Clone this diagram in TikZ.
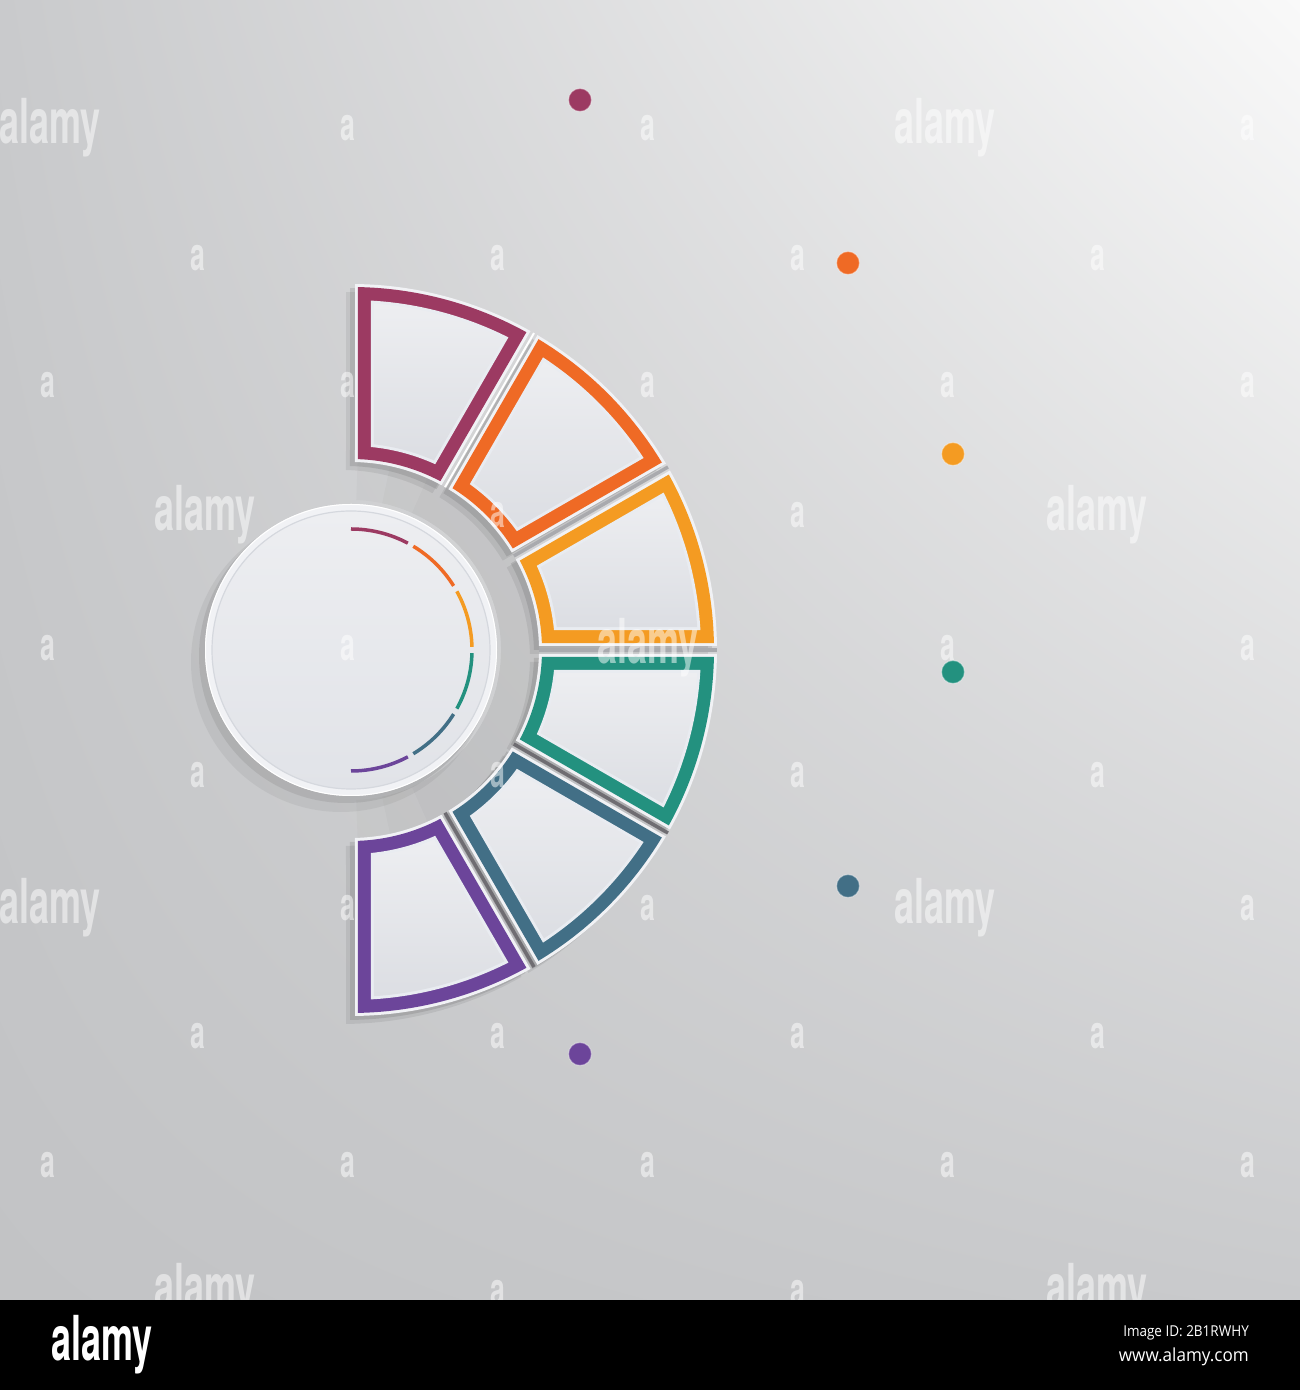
\documentclass[tikz,border=0pt]{standalone}
\usetikzlibrary{shadings}
\usepackage{fontspec}
\setmainfont{TeX Gyre Heros}
\newfontfamily\wmfont{TeX Gyre Heros}
\newfontfamily\barfont{Open Sans}
\definecolor{cMaroon}{HTML}{9C3A62}
\definecolor{cOrange}{HTML}{EF6A25}
\definecolor{cYellow}{HTML}{F49B22}
\definecolor{cTeal}{HTML}{23917F}
\definecolor{cBlue}{HTML}{426F86}
\definecolor{cPurple}{HTML}{6C459A}
\definecolor{bgUL}{HTML}{C9CACC}
\definecolor{bgUR}{HTML}{F9F9F9}
\definecolor{bgLL}{HTML}{C2C3C5}
\definecolor{bgLR}{HTML}{C9CACC}
\definecolor{rimc}{HTML}{F1F2F5}
\definecolor{linec}{HTML}{E9ECF1}
\definecolor{fillt}{HTML}{EDEEF1}
\definecolor{fillb}{HTML}{DCDEE3}
\definecolor{hubb}{HTML}{E1E3E8}
\definecolor{hubline}{HTML}{D5D8DE}
\definecolor{gapdark}{HTML}{6F6D72}
\definecolor{gapmid}{HTML}{A9AAAE}
\def\Rin{188}
\def\Rout{366}
\def\gapw{4}
\newcommand\segshape[4]{%
  \pgfmathsetmacro\sra{\Rin+#3}%
  \pgfmathsetmacro\srb{\Rout-#3}%
  \pgfmathsetmacro\sai{#1+deg((\gapw+#3)/\sra)}%
  \pgfmathsetmacro\sbi{#2-deg((\gapw+#3)/\sra)}%
  \pgfmathsetmacro\sao{#1+deg((\gapw+#3)/\srb)}%
  \pgfmathsetmacro\sbo{#2-deg((\gapw+#3)/\srb)}%
  \path[shift={(C)},#4] (\sao:\srb pt) arc[start angle=\sao,end angle=\sbo,radius=\srb pt]
     -- (\sbi:\sra pt) arc[start angle=\sbi,end angle=\sai,radius=\sra pt] -- cycle;%
}
\newcommand\ringseg[3]{%
  \segshape{#1}{#2}{0}{fill=rimc}%
  \segshape{#1}{#2}{3}{fill=#3}%
  \segshape{#1}{#2}{16}{fill=linec}%
  \segshape{#1}{#2}{19}{top color=fillt,bottom color=fillb}%
}
\newcommand\hubshade[2]{%
  \fill[black,opacity=#2,shift={(C)}] (-#1:150pt) arc[start angle=-#1,end angle=#1,radius=150pt]
     -- (#1:\Rin pt) arc[start angle=#1,end angle=-#1,radius=\Rin pt] -- cycle;%
}
\tikzset{
  dotnode/.style={circle,minimum size=23pt,inner sep=0pt,draw=white,draw opacity=0.35,line width=1.2pt},
  wmbig/.style={font=\wmfont\bfseries\fontsize{62}{62}\selectfont,text=white,text opacity=0.5,xscale=0.58,inner sep=0pt},
  wmsmall/.style={font=\wmfont\bfseries\fontsize{46}{46}\selectfont,text=white,text opacity=0.5,xscale=0.58,inner sep=0pt},
  logo/.style={font=\wmfont\bfseries\fontsize{62}{62}\selectfont,text=white,xscale=0.58,inner sep=0pt},
  bartxt/.style={text=white,inner sep=0pt,anchor=east}
}
\begin{document}
\begin{tikzpicture}[x=1pt,y=1pt]
\useasboundingbox (0,0) rectangle (1300,1390);
% background
\shade[upper left=bgUL,upper right=bgUR,lower left=bgLL,lower right=bgLR] (0,90) rectangle (1300,1390);
\coordinate (C) at (351,740);
\coordinate (K) at (351,740);
% soft shade between hub and ring (right side only)
\hubshade{88}{0.018}
\hubshade{78}{0.018}
\hubshade{66}{0.02}
% ring shadows
\foreach \a/\b in {60/90,30/60,0/30,-30/0,-60/-30,-90/-60}{
  \segshape{\a}{\b}{0}{fill=black,opacity=0.07,xshift=-9pt,yshift=-8pt}
  \segshape{\a}{\b}{0}{fill=black,opacity=0.10,xshift=-5pt,yshift=-4pt}
}
% ring segments
\ringseg{60}{90}{cMaroon}
\ringseg{30}{60}{cOrange}
\ringseg{0}{30}{cYellow}
\ringseg{-30}{0}{cTeal}
\ringseg{-60}{-30}{cBlue}
\ringseg{-90}{-60}{cPurple}
% gap lines
\draw[white,line width=2pt,shift={(C)}] (60:\Rin pt) -- (60:\Rout pt);
\draw[gapmid,line width=3.5pt,shift={(C)}] (30:\Rin pt) -- (30:\Rout pt);
\draw[gapmid,line width=3.5pt,shift={(C)}] (0:\Rin pt) -- (0:\Rout pt);
\draw[gapdark,line width=3.5pt,shift={(C)}] (-30:\Rin pt) -- (-30:\Rout pt);
\draw[gapdark,line width=3.5pt,shift={(C)}] (-60:\Rin pt) -- (-60:\Rout pt);
% hub shadow
\fill[black,opacity=0.05] ([xshift=-10pt,yshift=-12pt]K) circle[radius=150pt];
\fill[black,opacity=0.08] ([xshift=-5pt,yshift=-6pt]K) circle[radius=147pt];
% hub
\fill[rimc] (K) circle[radius=146pt];
\draw[white,line width=1pt] (K) circle[radius=145.5pt];
\shade[top color=fillt,bottom color=hubb] (K) circle[radius=139pt];
\draw[hubline,line width=1.2pt] (K) circle[radius=139pt];
% inner arcs
\foreach \s/\e/\c in {90/62/cMaroon,59/32/cOrange,29/1.5/cYellow,-1.5/-29/cTeal,-32/-59/cBlue,-62/-90/cPurple}{
  \draw[\c,line width=3.5pt] (K) ++(\s:121pt) arc[start angle=\s,end angle=\e,radius=121pt];
}
% dots
\node[dotnode,fill=cMaroon] (d1) at (580,1290) {};
\node[dotnode,fill=cOrange] (d2) at (848,1127) {};
\node[dotnode,fill=cYellow] (d3) at (953,936) {};
\node[dotnode,fill=cTeal] (d4) at (953,718) {};
\node[dotnode,fill=cBlue] (d5) at (848,504) {};
\node[dotnode,fill=cPurple] (d6) at (580,336) {};
% watermarks
\foreach \x/\y [count=\i] in {50/128,945/128,205/515,1097/515,648/648,50/908,945/908,205/1293,1097/1293}{
  \node[wmbig] (wb\i) at (\x,1390-\y) {alamy};
}
\foreach \x/\y [count=\i] in {348/128,648/128,1248/128,
  198/258,498/258,798/258,1098/258,
  48/385,348/385,648/385,948/385,1248/385,
  498/515,798/515,
  48/648,348/648,948/648,1248/648,
  198/775,498/775,798/775,1098/775,
  348/908,648/908,1248/908,
  198/1036,498/1036,798/1036,1098/1036,
  48/1165,348/1165,648/1165,948/1165,1248/1165,
  498/1293,798/1293}{
  \node[wmsmall] (ws\i) at (\x,1390-\y) {a};
}
% bottom bar
\fill[black] (0,0) rectangle (1300,90);
\node[logo] (lg) at (102,45) {alamy};
\node[bartxt,font=\barfont\fontsize{15}{15}\selectfont] (iid) at (1249,57) {\scalebox{0.9}[1]{Image ID: 2B1RWHY}};
\node[bartxt,font=\barfont\fontsize{18}{18}\selectfont] (url) at (1249,33) {\scalebox{0.95}[1]{www.alamy.com}};
\end{tikzpicture}
\end{document}
